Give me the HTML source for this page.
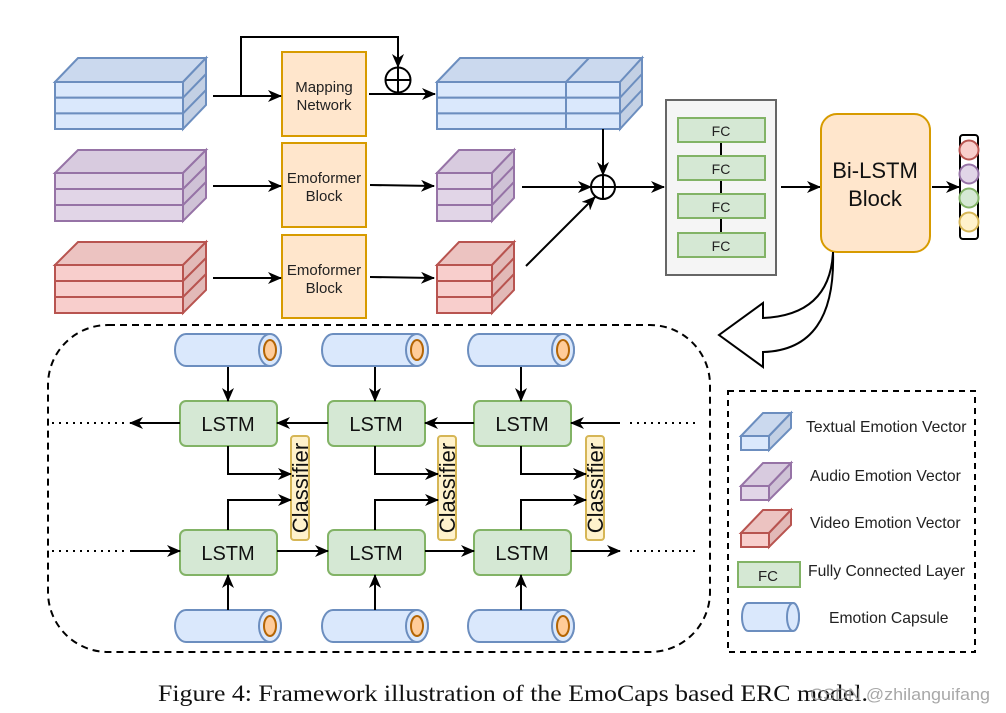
<!DOCTYPE html>
<html><head><meta charset="utf-8"><style>
html,body{margin:0;padding:0;background:#fff;}
svg{display:block;font-family:"Liberation Sans",sans-serif;}
</style></head><body>
<svg width="1006" height="713" viewBox="0 0 1006 713" xmlns="http://www.w3.org/2000/svg">
<defs>
<marker id="ah" markerWidth="14" markerHeight="12" refX="13" refY="6" orient="auto" markerUnits="userSpaceOnUse">
<path d="M0,0 L14,6 L0,12 L4,6 z" fill="#000"/></marker>
<g id="capsule">
<path d="M12,0 H96 A11,16 0 0 1 96,32 H12 A11,16 0 0 1 12,0 z" fill="#dae8fc" stroke="#6c8ebf" stroke-width="2"/>
<ellipse cx="96" cy="16" rx="11" ry="16" fill="#dae8fc" stroke="#6c8ebf" stroke-width="2"/>
<ellipse cx="96" cy="16" rx="6" ry="10" fill="#ffcc99" stroke="#b46504" stroke-width="2"/>
</g>
</defs>
<rect width="1006" height="713" fill="#fff"/>

<g stroke-width="2">
<g fill="#dae8fc" stroke="#6c8ebf">
<path d="M55,82 L78,58 L206,58 L183,82 z" fill="#cbd9ee"/>
<path d="M183,82 L206,58 L206,105 L183,129 z" fill="#c3d0e4"/>
<rect x="55" y="82" width="128" height="15.7"/><rect x="55" y="97.7" width="128" height="15.7"/><rect x="55" y="113.4" width="128" height="15.6"/>
<path d="M183,97.7 L206,74 M183,113.4 L206,90" fill="none"/>
</g>
<g fill="#e1d5e7" stroke="#9673a6">
<path d="M55,173 L78,150 L206,150 L183,173 z" fill="#d8cbdf"/>
<path d="M183,173 L206,150 L206,198 L183,221 z" fill="#cfc2d6"/>
<rect x="55" y="173" width="128" height="16"/><rect x="55" y="189" width="128" height="16"/><rect x="55" y="205" width="128" height="16"/>
<path d="M183,189 L206,166 M183,205 L206,182" fill="none"/>
</g>
<g fill="#f8cecc" stroke="#b85450">
<path d="M55,265 L78,242 L206,242 L183,265 z" fill="#ecc3c1"/>
<path d="M183,265 L206,242 L206,290 L183,313 z" fill="#e2b9b7"/>
<rect x="55" y="265" width="128" height="16"/><rect x="55" y="281" width="128" height="16"/><rect x="55" y="297" width="128" height="16"/>
<path d="M183,281 L206,258 M183,297 L206,274" fill="none"/>
</g>
<g fill="#dae8fc" stroke="#6c8ebf">
<path d="M437,82 L460,58 L642,58 L620,82 z" fill="#cbd9ee"/>
<path d="M566,82 L589,58" fill="none"/>
<path d="M620,82 L642,58 L642,105 L620,129 z" fill="#c3d0e4"/>
<rect x="437" y="82" width="183" height="15.7"/><rect x="437" y="97.7" width="183" height="15.7"/><rect x="437" y="113.4" width="183" height="15.6"/>
<path d="M566,82 V129 M620,97.7 L642,74 M620,113.4 L642,90" fill="none"/>
</g>
<g fill="#e1d5e7" stroke="#9673a6">
<path d="M437,173 L459,150 L514,150 L492,173 z" fill="#d8cbdf"/>
<path d="M492,173 L514,150 L514,198 L492,221 z" fill="#cfc2d6"/>
<rect x="437" y="173" width="55" height="16"/><rect x="437" y="189" width="55" height="16"/><rect x="437" y="205" width="55" height="16"/>
<path d="M492,189 L514,166 M492,205 L514,182" fill="none"/>
</g>
<g fill="#f8cecc" stroke="#b85450">
<path d="M437,265 L459,242 L514,242 L492,265 z" fill="#ecc3c1"/>
<path d="M492,265 L514,242 L514,290 L492,313 z" fill="#e2b9b7"/>
<rect x="437" y="265" width="55" height="16"/><rect x="437" y="281" width="55" height="16"/><rect x="437" y="297" width="55" height="16"/>
<path d="M492,281 L514,258 M492,297 L514,274" fill="none"/>
</g>
</g>

<g fill="#ffe6cc" stroke="#d79b00" stroke-width="2">
<rect x="282" y="52" width="84" height="84"/>
<rect x="282" y="143" width="84" height="84"/>
<rect x="282" y="235" width="84" height="83"/>
</g>
<g font-size="15" fill="#222" text-anchor="middle">
<text x="324" y="92">Mapping</text><text x="324" y="110">Network</text>
<text x="324" y="183">Emoformer</text><text x="324" y="201">Block</text>
<text x="324" y="275">Emoformer</text><text x="324" y="293">Block</text>
</g>

<g stroke="#000" stroke-width="2" fill="none">
<line x1="213" y1="96" x2="281" y2="96" marker-end="url(#ah)"/>
<line x1="213" y1="186" x2="281" y2="186" marker-end="url(#ah)"/>
<line x1="213" y1="278" x2="281" y2="278" marker-end="url(#ah)"/>
<path d="M241,96 V37 H398 V67" marker-end="url(#ah)"/>
<circle cx="398" cy="80" r="12.5"/>
<path d="M385.5,80 H410.5 M398,67.5 V92.5"/>
<line x1="369" y1="94" x2="435" y2="94" marker-end="url(#ah)"/>
<line x1="370" y1="185" x2="434" y2="186" marker-end="url(#ah)"/>
<line x1="370" y1="277" x2="434" y2="278" marker-end="url(#ah)"/>
<circle cx="603" cy="187" r="12"/>
<path d="M591,187 H615 M603,175 V199"/>
<line x1="603" y1="129" x2="603" y2="175" marker-end="url(#ah)"/>
<line x1="522" y1="187" x2="591" y2="187" marker-end="url(#ah)"/>
<line x1="526" y1="266" x2="595" y2="197" marker-end="url(#ah)"/>
<line x1="615" y1="187" x2="664" y2="187" marker-end="url(#ah)"/>
<line x1="781" y1="187" x2="820" y2="187" marker-end="url(#ah)"/>
<line x1="932" y1="187" x2="959" y2="187" marker-end="url(#ah)"/>
</g>

<rect x="666" y="100" width="110" height="175" fill="#f5f5f5" stroke="#666" stroke-width="2"/>
<g stroke="#000" stroke-width="2"><line x1="721" y1="142" x2="721" y2="233"/></g>
<g fill="#d5e8d4" stroke="#82b366" stroke-width="2">
<rect x="678" y="118" width="87" height="24"/>
<rect x="678" y="156" width="87" height="24"/>
<rect x="678" y="194" width="87" height="24"/>
<rect x="678" y="233" width="87" height="24"/>
</g>
<g font-size="14" fill="#222" text-anchor="middle">
<text x="721" y="136">FC</text><text x="721" y="174">FC</text><text x="721" y="212">FC</text><text x="721" y="251">FC</text>
</g>

<rect x="821" y="114" width="109" height="138" rx="16" fill="#ffe6cc" stroke="#d79b00" stroke-width="2"/>
<text x="875" y="178" font-size="22" text-anchor="middle" fill="#111">Bi-LSTM</text>
<text x="875" y="206" font-size="22" text-anchor="middle" fill="#111">Block</text>

<rect x="960" y="135" width="18" height="104" rx="3" fill="#fff" stroke="#000" stroke-width="2"/>
<circle cx="969" cy="150" r="9.5" fill="#f8cecc" stroke="#b85450" stroke-width="2"/>
<circle cx="969" cy="174" r="9.5" fill="#e1d5e7" stroke="#9673a6" stroke-width="2"/>
<circle cx="969" cy="198" r="9.5" fill="#d5e8d4" stroke="#82b366" stroke-width="2"/>
<circle cx="969" cy="222" r="9.5" fill="#fff2cc" stroke="#d6b656" stroke-width="2"/>

<path d="M833,252 Q830,315 763,318 L763,303 L719,335 L763,367 L763,352 Q836,350 833,252 z" fill="#fff" stroke="#000" stroke-width="2"/>

<rect x="48" y="325" width="662" height="327" rx="60" fill="none" stroke="#000" stroke-width="2" stroke-dasharray="7,5"/>

<use href="#capsule" x="174" y="334"/><use href="#capsule" x="321" y="334"/><use href="#capsule" x="467" y="334"/>
<use href="#capsule" x="174" y="610"/><use href="#capsule" x="321" y="610"/><use href="#capsule" x="467" y="610"/>

<g fill="#d5e8d4" stroke="#82b366" stroke-width="2">
<rect x="180" y="401" width="97" height="45" rx="6"/><rect x="328" y="401" width="97" height="45" rx="6"/><rect x="474" y="401" width="97" height="45" rx="6"/>
<rect x="180" y="530" width="97" height="45" rx="6"/><rect x="328" y="530" width="97" height="45" rx="6"/><rect x="474" y="530" width="97" height="45" rx="6"/>
</g>
<g font-size="20" fill="#111" text-anchor="middle">
<text x="228" y="431">LSTM</text><text x="376" y="431">LSTM</text><text x="522" y="431">LSTM</text>
<text x="228" y="560">LSTM</text><text x="376" y="560">LSTM</text><text x="522" y="560">LSTM</text>
</g>
<g fill="#fff2cc" stroke="#d6b656" stroke-width="2">
<rect x="291" y="436" width="18" height="104" rx="3"/><rect x="438" y="436" width="18" height="104" rx="3"/><rect x="586" y="436" width="18" height="104" rx="3"/>
</g>
<g font-size="22" fill="#111" text-anchor="middle">
<text transform="translate(308,488) rotate(-90)">Classifier</text>
<text transform="translate(455,488) rotate(-90)">Classifier</text>
<text transform="translate(603,488) rotate(-90)">Classifier</text>
</g>

<g stroke="#000" stroke-width="2" fill="none">
<line x1="228" y1="367" x2="228" y2="401" marker-end="url(#ah)"/>
<line x1="375" y1="367" x2="375" y2="401" marker-end="url(#ah)"/>
<line x1="521" y1="367" x2="521" y2="401" marker-end="url(#ah)"/>
<line x1="228" y1="610" x2="228" y2="575" marker-end="url(#ah)"/>
<line x1="375" y1="610" x2="375" y2="575" marker-end="url(#ah)"/>
<line x1="521" y1="610" x2="521" y2="575" marker-end="url(#ah)"/>
<line x1="180" y1="423" x2="130" y2="423" marker-end="url(#ah)"/>
<line x1="328" y1="423" x2="277" y2="423" marker-end="url(#ah)"/>
<line x1="474" y1="423" x2="425" y2="423" marker-end="url(#ah)"/>
<line x1="620" y1="423" x2="571" y2="423" marker-end="url(#ah)"/>
<line x1="130" y1="551" x2="180" y2="551" marker-end="url(#ah)"/>
<line x1="277" y1="551" x2="328" y2="551" marker-end="url(#ah)"/>
<line x1="425" y1="551" x2="474" y2="551" marker-end="url(#ah)"/>
<line x1="571" y1="551" x2="620" y2="551" marker-end="url(#ah)"/>
<path d="M228,446 V474 H291" marker-end="url(#ah)"/>
<path d="M375,446 V474 H438" marker-end="url(#ah)"/>
<path d="M521,446 V474 H586" marker-end="url(#ah)"/>
<path d="M228,530 V500 H291" marker-end="url(#ah)"/>
<path d="M375,530 V500 H438" marker-end="url(#ah)"/>
<path d="M521,530 V500 H586" marker-end="url(#ah)"/>
</g>
<g stroke="#000" stroke-width="2" stroke-dasharray="2,5">
<line x1="52" y1="423" x2="128" y2="423"/><line x1="52" y1="551" x2="128" y2="551"/>
<line x1="630" y1="423" x2="700" y2="423"/><line x1="630" y1="551" x2="700" y2="551"/>
</g>

<rect x="728" y="391" width="247" height="261" fill="none" stroke="#000" stroke-width="2" stroke-dasharray="6,5"/>
<g stroke-width="2">
<g fill="#dae8fc" stroke="#6c8ebf"><path d="M741,436 L763,413 L791,413 L769,436 z" fill="#cbd9ee"/><path d="M769,436 L791,413 L791,428 L769,450 z" fill="#c3d0e4"/><rect x="741" y="436" width="28" height="14"/></g>
<g fill="#e1d5e7" stroke="#9673a6"><path d="M741,486 L763,463 L791,463 L769,486 z" fill="#d8cbdf"/><path d="M769,486 L791,463 L791,478 L769,500 z" fill="#cfc2d6"/><rect x="741" y="486" width="28" height="14"/></g>
<g fill="#f8cecc" stroke="#b85450"><path d="M741,533 L763,510 L791,510 L769,533 z" fill="#ecc3c1"/><path d="M769,533 L791,510 L791,525 L769,547 z" fill="#e2b9b7"/><rect x="741" y="533" width="28" height="14"/></g>
<rect x="738" y="562" width="62" height="25" fill="#d5e8d4" stroke="#82b366"/>
<path d="M748,603 H793 A6,14 0 0 1 793,631 H748 A6,14 0 0 1 748,603 z" fill="#dae8fc" stroke="#6c8ebf"/>
<ellipse cx="793" cy="617" rx="6" ry="14" fill="#dae8fc" stroke="#6c8ebf"/>
</g>
<g font-size="15.7" fill="#222">
<text x="806" y="432">Textual Emotion Vector</text>
<text x="810" y="481">Audio Emotion Vector</text>
<text x="810" y="528">Video Emotion Vector</text>
<text x="758" y="581" font-size="15">FC</text>
<text x="808" y="576">Fully Connected Layer</text>
<text x="829" y="623">Emotion Capsule</text>
</g>

<text x="158" y="701" font-family="'Liberation Serif',serif" font-size="23.5" fill="#111" textLength="710" lengthAdjust="spacingAndGlyphs">Figure 4: Framework illustration of the EmoCaps based ERC model.</text>
<text x="810" y="700" font-size="16.5" fill="#999" opacity="0.85" textLength="180" lengthAdjust="spacingAndGlyphs">CSDN @zhilanguifang</text>
</svg>
</body></html>
